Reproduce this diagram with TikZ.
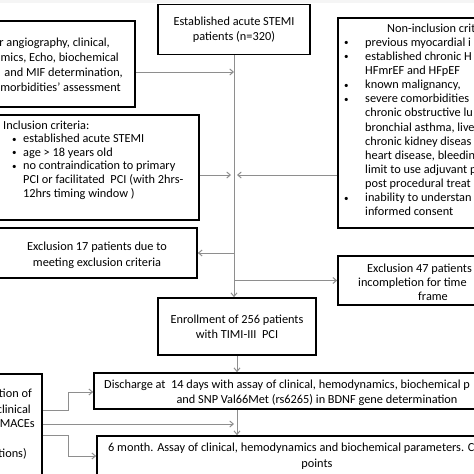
\documentclass[tikz,border=0pt]{standalone}
\usepackage{fontspec}
\setmainfont{Carlito}
\usetikzlibrary{arrows.meta}
\definecolor{conncol}{HTML}{8E8E8E}
\tikzset{
  box/.style={draw=black, line width=1.7pt, inner sep=0pt},
  txt/.style={inner sep=0pt, font=\fontsize{12.3}{15}\selectfont},
  conn/.style={draw=conncol, line width=1pt, -{Straight Barb[length=3.5pt,width=6pt]}},
}
\newcommand\bul{\makebox[21pt][l]{\raisebox{0.6pt}{\fontsize{9}{9}\selectfont •}}}
\newcommand\bulb{\makebox[11pt][l]{\raisebox{0.6pt}{\fontsize{9}{9}\selectfont •}}}
\begin{document}
\begin{tikzpicture}[x=1pt,y=-1pt]
\useasboundingbox (0,0) rectangle (474,474);
\clip (0,0) rectangle (474,474);
\fill[gray!8] (0,0) rectangle (474,3);

% top box
\node[box, txt, align=center, minimum width=152pt, minimum height=50pt] (top) at (234,29.5) {Established acute STEMI\\patients (n=320)};

% left top box
\node[box, minimum width=155pt, minimum height=86pt] (lefta) at (57.5,64) {};
\node[txt, anchor=base east] (la1) at (110,46) {r angiography, clinical,};
\node[txt, anchor=base east] (la2) at (119,61) {amics, Echo, biochemical};
\node[txt, anchor=base east] (la3) at (123,76) {. and MIF determination,};
\node[txt, anchor=base east] (la4) at (121,91) {morbidities’ assessment};

% non-inclusion box
\node[box, minimum width=162pt, minimum height=210pt] (noninc) at (419,123) {};
\node[txt, anchor=base west] (n0) at (387,32) {Non-inclusion crit};
\node[txt, anchor=base west] (n1) at (344,46.15) {\bul previous myocardial i};
\node[txt, anchor=base west] (n2) at (344,60.3) {\bul established chronic H};
\node[txt, anchor=base west] (n3) at (365,74.45) {HFmrEF and HFpEF};
\node[txt, anchor=base west] (n4) at (344,88.6) {\bul known malignancy,};
\node[txt, anchor=base west] (n5) at (344,102.75) {\bul severe comorbidities};
\node[txt, anchor=base west] (n6) at (365,116.9) {chronic obstructive lu};
\node[txt, anchor=base west] (n7) at (365,131.05) {bronchial asthma, live};
\node[txt, anchor=base west] (n8) at (365,145.2) {chronic kidney diseas};
\node[txt, anchor=base west] (n9) at (365,159.35) {heart disease, bleedin};
\node[txt, anchor=base west] (n10) at (365,173.5) {limit to use adjuvant p};
\node[txt, anchor=base west] (n11) at (365,187.65) {post procedural treat};
\node[txt, anchor=base west] (n12) at (344,201.8) {\bul inability to understan};
\node[txt, anchor=base west] (n13) at (365,215.95) {informed consent};

% inclusion box
\node[box, minimum width=219pt, minimum height=105pt] (incl) at (89.5,167.5) {};
\node[txt, anchor=base west] (i0) at (3,129) {Inclusion criteria:};
\node[txt, anchor=base west] (i1) at (12,142.6) {\bulb established acute STEMI};
\node[txt, anchor=base west] (i2) at (12,156.2) {\bulb age > 18 years old};
\node[txt, anchor=base west] (i3) at (12,169.8) {\bulb no contraindication to primary};
\node[txt, anchor=base west] (i4) at (23,183.4) {PCI or facilitated~ PCI (with 2hrs-};
\node[txt, anchor=base west] (i5) at (23,197) {12hrs timing window )};

% exclusion 17
\node[box, minimum width=217pt, minimum height=50pt] (excl17) at (88.5,253) {};
\node[txt, anchor=base] (e17a) at (97,250) {Exclusion 17 patients due to};
\node[txt, anchor=base] (e17b) at (97,266) {meeting exclusion criteria};

% exclusion 47
\node[box, minimum width=162pt, minimum height=49pt] (excl47) at (419,280.5) {};
\node[txt, anchor=base west] (e47a) at (367,272) {Exclusion 47 patients};
\node[txt, anchor=base west] (e47b) at (358,286) {incompletion for time};
\node[txt, anchor=base west] (e47c) at (418,300) {frame};

% enrollment
\node[box, txt, align=center, minimum width=158pt, minimum height=57pt] (enroll) at (237,326.5) {Enrollment of 256 patients\\with TIMI-III~ PCI};

% discharge
\node[box, minimum width=446pt, minimum height=36pt] (disch) at (317,391) {};
\node[txt, anchor=base west] (d1) at (104,388) {Discharge at~ 14 days with assay of clinical, hemodynamics, biochemical p};
\node[txt, anchor=base] (d2) at (317,403) {and SNP Val66Met (rs6265) in BDNF gene determination};

% six month
\node[box, minimum width=443pt, minimum height=64pt] (six) at (318.5,468) {};
\node[txt, anchor=base west] (s1) at (108,451) {6 month. Assay of clinical, hemodynamics and biochemical parameters. C};
\node[txt, anchor=base] (s2) at (317,467) {points};

% bottom-left box
\node[box, minimum width=62pt, minimum height=126pt] (bl) at (11,437) {};
\node[txt, anchor=base east] (b1) at (32,397) {tion of};
\node[txt, anchor=base east] (b2) at (31,413) {clinical};
\node[txt, anchor=base east] (b3) at (35,427) {MACEs};
\node[txt, anchor=base east] (b4) at (27,457) {tions)};

% coordinates
\coordinate (tl) at (231,175);
\coordinate (tr) at (237,175);
\coordinate (ya) at (0,72);
\coordinate (bend1) at (68,410);
\coordinate (bend1b) at (68,392);
\coordinate (mid) at (234,424);
\coordinate (bend3) at (68,435);
\coordinate (bend3b) at (68,456);

% connectors
\draw[conn] (top.south) -- (top.south |- enroll.north);
\draw[conn] (lefta.east |- ya) -- (top.south |- ya);
\draw[conn] (incl.east |- tl) -- (tl);
\draw[conn] (noninc.west |- tr) -- (tr);
\draw[conn] (top.south |- excl17.east) -- (excl17.east);
\draw[conn] (top.south |- excl47.west) -- (excl47.west);
\draw[conn] (enroll.south) -- (enroll.south |- disch.north);
\draw[conn] (enroll.south |- disch.south) -- (enroll.south |- six.north);
\draw[conn] (bl.east |- bend1) -- (bend1) -- (bend1b) -- (disch.west |- bend1b);
\draw[conn] (bl.east |- mid) -- (mid);
\draw[conn] (bl.east |- bend3) -- (bend3) -- (bend3b) -- (six.west |- bend3b);
\end{tikzpicture}
\end{document}
